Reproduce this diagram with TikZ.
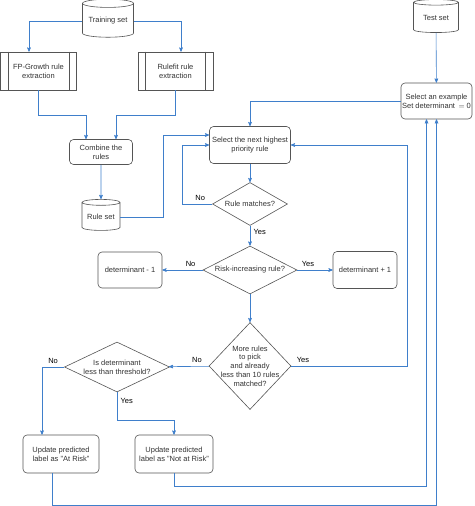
\documentclass[tikz,border=0pt]{standalone}
\usepackage{fontspec}
\setmainfont{Liberation Sans}
\usetikzlibrary{arrows,shapes.geometric}
\definecolor{flowblue}{HTML}{3F7FCB}
\definecolor{boxgray}{HTML}{555555}

\begin{document}
\begin{tikzpicture}[
                    x=1pt, y=-1pt,
                    >=stealth',
                    font=\fontsize{7.5}{8.8}\selectfont,
                    semithick
                ]
                \tikzstyle{box}=[draw=boxgray, fill=white, text=black!80, align=center, inner sep=1pt]
                \tikzstyle{task}=[box, rounded corners=4pt]
                \tikzstyle{proc}=[box]
                \tikzstyle{store}=[box, cylinder, shape border rotate=90, aspect=0.2]
                \tikzstyle{query}=[box, diamond, aspect=2, inner sep=0pt]
                \tikzstyle{flow}=[draw=flowblue, ->]

                \useasboundingbox (0,0) rectangle (474,506);

                % inputs
                \node[store, minimum width=51pt, minimum height=38pt] (TR) at (108,21)  {Training set};
                \node[store, minimum width=45pt, minimum height=33pt] (TS) at (436,18)  {Test set};
                \node[proc, minimum width=76pt, minimum height=38pt]  (FP) at (38.5,71) {FP-Growth rule\\extraction};
                \node[proc, minimum width=75pt, minimum height=38pt]  (RF) at (175.5,71) {Rulefit rule\\extraction};
                \foreach \n in {FP,RF} {
                    \draw[boxgray] ([xshift=8pt]\n.north west) -- ([xshift=8pt]\n.south west);
                    \draw[boxgray] ([xshift=-8pt]\n.north east) -- ([xshift=-8pt]\n.south east);
                }
                \node[task, minimum width=63pt, minimum height=25pt]  (CR) at (101,152) {Combine the\\rules};
                \node[store, minimum width=38pt, minimum height=31pt] (RS) at (101,217) {Rule set};
                \node[task, minimum width=71pt, minimum height=36pt]  (SE) at (436.5,101) {Select an example\\Set determinant $\,=$ 0};

                % rule loop
                \node[task, minimum width=81pt, minimum height=37pt]  (SN) at (250,145) {Select the next highest\\priority rule};
                \node[query, minimum width=75pt, minimum height=43pt] (RM) at (250,204) {Rule matches?};
                \node[query, minimum width=94pt, minimum height=48pt] (RI) at (250,270) {Risk-increasing rule?};
                \node[task, minimum width=64pt, minimum height=36pt]  (DM) at (130,270) {determinant - 1};
                \node[task, minimum width=64pt, minimum height=37pt]  (DP) at (365,270) {determinant + 1};
                \node[query, minimum width=82pt, minimum height=87pt,
                      label={[align=center, text=black!80]center:More rules\\to pick\\and already\\less than 10 rules\\matched?}] (MR) at (250,366) {};

                % outcome
                \node[query, minimum width=105pt, minimum height=50pt] (TH) at (117,367) {Is determinant\\less than threshold?};
                \node[task, minimum width=76pt, minimum height=38pt]  (AR) at (61,454)  {Update predicted\\label as "At Risk"};
                \node[task, minimum width=78pt, minimum height=38pt]  (NR) at (174,454) {Update predicted\\label as "Not at Risk"};

                \draw[flow] (TR.west) -| ([xshift=-9.5pt]FP.north);
                \draw[flow] (TR.east) -| ([xshift=5.5pt]RF.north);
                \draw[flow] (FP.south) -- ++(0,25) -| ([xshift=-15pt]CR.north);
                \draw[flow] (RF.south) -- ++(0,25) -| ([xshift=15pt]CR.north);
                \draw[flow] (CR) -- (RS);
                \draw[flow] (RS.east) -| ([xshift=-46pt,yshift=10pt]SN.west) -- ([yshift=10pt]SN.west);
                \draw[flow] (TS) -- (SE);
                \draw[flow] (SE.west) -| (SN.north);
                \draw[flow] (SN) -- (RM);
                \draw[flow] (RM.west) -| node[pos=0.2, above] {No} ([xshift=-27pt]SN.west) -- (SN.west);
                \draw[flow] (RM) -- node[pos=0.3, right] {Yes} (RI);
                \draw[flow] (RI) -- node[pos=0.3, above] {No} (DM);
                \draw[flow] (RI) -- node[pos=0.3, above] {Yes} (DP);
                \draw[flow] (RI) -- (MR);
                \draw[flow] (MR.east) -- node[pos=0.1, above] {Yes} ++(116,0) |- (SN.east);
                \draw[flow] (MR) -- node[pos=0.3, above] {No} (TH);
                \draw[flow] (TH.west) -| node[pos=0.25, above] {No} ([xshift=-19pt]AR.north);
                \draw[flow] (TH.south) -- node[pos=0.3, right] {Yes} ++(0,28) -| (NR.north);
                \draw[flow] ([xshift=-9pt]AR.south) -- ++(0,32) -| (SE.south);
                \draw[flow] (NR.south) -- ++(0,13) -| ([xshift=-10pt]SE.south);
\end{tikzpicture}
\end{document}
